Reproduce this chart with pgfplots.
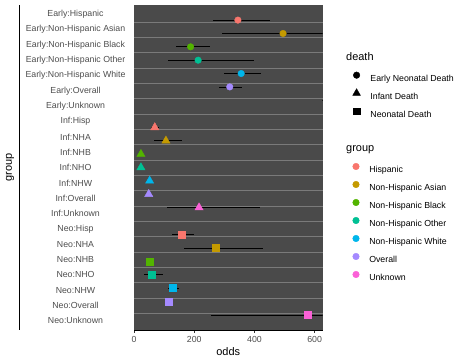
\documentclass[border=0pt]{standalone}
\usepackage{fontspec}
\setmainfont{Liberation Sans}
\usepackage{pgfplots}
\usepackage{pgfplotstable}
\pgfplotsset{compat=1.18}
\definecolor{cA}{HTML}{F8766D}
\definecolor{cB}{HTML}{C49A00}
\definecolor{cC}{HTML}{53B400}
\definecolor{cD}{HTML}{00C094}
\definecolor{cE}{HTML}{00B6EB}
\definecolor{cF}{HTML}{A58AFF}
\definecolor{cG}{HTML}{FB61D7}
\definecolor{panel}{HTML}{4A4A4A}
\definecolor{gridc}{HTML}{7A7A7A}
\definecolor{grey30}{HTML}{4D4D4D}
\definecolor{grey20}{HTML}{333333}

\pgfplotstableread{
x y em ep g
345 20.614 82 107 a
495 19.743 204 205 b
188 18.871 47 64 c
213 18.000 100 186 d
356 17.129 56 65 e
318 16.257 36 42 f
900 15.386 277 300 g
}\early
\pgfplotstableread{
x y em ep g
69 13.614 12 14 a
106 12.743 39 55 b
23 11.871 5 5 c
23 11.000 5 5 d
52 10.129 4 4 e
49 9.257 3 3 f
216 8.386 108 202 g
}\infant
\pgfplotstableread{
x y em ep g
158 6.614 33 42 a
271 5.743 104 157 b
53 4.871 11 13 c
59 4.000 26 38 d
129 3.129 16 20 e
115 2.257 5 5 f
578 1.386 323 322 g
}\neo

\pgfplotsset{
  grpclasses/.style={scatter, only marks, point meta=explicit symbolic,
    scatter/classes={a={cA},b={cB},c={cC},d={cD},e={cE},f={cF},g={cG}}},
  errplot/.style={draw=none, mark=none,
    error bars/.cd, x dir=both, x explicit, error mark=none,
    error bar style={black, line width=0.7pt}},
}

\begin{document}
\begin{tikzpicture}
\path[use as bounding box] (0bp,0bp) rectangle (474bp,-363bp);
\begin{axis}[name=ax, at={(134bp,-5bp)}, anchor=north west,
  scale only axis, width=188.5bp, height=325bp,
  xmin=0, xmax=626, ymin=0.4, ymax=21.6,
  axis background/.style={fill=panel},
  axis lines*=left,
  x axis line style={black, line width=0.6pt},
  y axis line style={draw=none},
  xtick={0,200,400,600},
  tick align=outside, major tick length=2.75pt,
  x tick style={grey20, line width=0.6pt},
  y tick style={draw=none},
  ytick={1,...,21},
  yticklabels={Neo:Unknown,Neo:Overall,Neo:NHW,Neo:NHO,Neo:NHB,Neo:NHA,Neo:Hisp,
    Inf:Unknown,Inf:Overall,Inf:NHW,Inf:NHO,Inf:NHB,Inf:NHA,Inf:Hisp,
    Early:Unknown,Early:Overall,Early:Non-Hispanic White,Early:Non-Hispanic Other,
    Early:Non-Hispanic Black,Early:Non-Hispanic Asian,Early:Hispanic},
  minor ytick={1.5,2.5,...,20.5},
  yminorgrids, minor tick length=0pt,
  minor grid style={gridc, line width=0.6pt},
  /pgf/number format/assume math mode=true,
  ticklabel style={font=\fontsize{8.8}{10}\selectfont, text=grey30},
  yticklabel style={anchor=center, xshift=-55.75bp},
  xlabel={odds}, ylabel={group},
  label style={font=\fontsize{11}{13}\selectfont},
  xlabel style={at={(axis description cs:0.5,-0.0677)}, anchor=center},
  ylabel style={at={(axis description cs:-0.658,0.5)}, anchor=center},
  clip=true,
]
\addplot[errplot] table[x=x, y=y, x error plus=ep, x error minus=em] {\early};
\addplot[errplot] table[x=x, y=y, x error plus=ep, x error minus=em] {\infant};
\addplot[errplot] table[x=x, y=y, x error plus=ep, x error minus=em] {\neo};
\addplot[grpclasses, mark=*, mark size=3.3pt] table[x=x, y=y, meta=g] {\early};
\addplot[grpclasses, mark=triangle*, mark size=4.8pt] table[x=x, y=y, meta=g] {\infant};
\addplot[grpclasses, mark=square*, mark size=3.5pt] table[x=x, y=y, meta=g] {\neo};
\end{axis}
\draw[black, line width=0.6pt] (19bp,-5bp) -- (19bp,-330bp);

% legends
\node[anchor=west, inner sep=0pt, font=\fontsize{11}{13}\selectfont] at (346bp,-57bp) {death};
\node[anchor=west, inner sep=0pt, font=\fontsize{11}{13}\selectfont] at (346bp,-150bp) {group};
\begin{axis}[hide axis, at={(0bp,0bp)}, anchor=north west, scale only axis,
  width=474bp, height=363bp, xmin=0, xmax=1, ymin=0, ymax=1,
  legend image code/.code={\draw[#1, yshift=3bp] plot coordinates {(0bp,0bp)};},
  legend style={at={(axis description cs:0.7441,0.8094)}, anchor=north west,
    draw=none, fill=none, inner sep=0pt, outer sep=0pt,
    font=\fontsize{8.8}{10}\selectfont, column sep=10bp, row sep=0pt,
    nodes={inner sep=0pt, text height=12bp, text depth=6bp}},
  legend cell align=left]
\addlegendimage{only marks, mark=*, black, mark size=3.3pt}
\addlegendentry{Early Neonatal Death}
\addlegendimage{only marks, mark=triangle*, black, mark size=4.5pt}
\addlegendentry{Infant Death}
\addlegendimage{only marks, mark=square*, black, mark size=3.3pt}
\addlegendentry{Neonatal Death}
\end{axis}
\begin{axis}[hide axis, at={(0bp,0bp)}, anchor=north west, scale only axis,
  width=474bp, height=363bp, xmin=0, xmax=1, ymin=0, ymax=1,
  legend image code/.code={\draw[#1, yshift=3bp] plot coordinates {(0bp,0bp)};},
  legend style={at={(axis description cs:0.7441,0.5579)}, anchor=north west,
    draw=none, fill=none, inner sep=0pt, outer sep=0pt,
    font=\fontsize{8.8}{10}\selectfont, column sep=10bp, row sep=0pt,
    nodes={inner sep=0pt, text height=12bp, text depth=6bp}},
  legend cell align=left]
\addlegendimage{only marks, mark=*, cA, mark size=3.3pt}
\addlegendentry{Hispanic}
\addlegendimage{only marks, mark=*, cB, mark size=3.3pt}
\addlegendentry{Non-Hispanic Asian}
\addlegendimage{only marks, mark=*, cC, mark size=3.3pt}
\addlegendentry{Non-Hispanic Black}
\addlegendimage{only marks, mark=*, cD, mark size=3.3pt}
\addlegendentry{Non-Hispanic Other}
\addlegendimage{only marks, mark=*, cE, mark size=3.3pt}
\addlegendentry{Non-Hispanic White}
\addlegendimage{only marks, mark=*, cF, mark size=3.3pt}
\addlegendentry{Overall}
\addlegendimage{only marks, mark=*, cG, mark size=3.3pt}
\addlegendentry{Unknown}
\end{axis}
\end{tikzpicture}
\end{document}
